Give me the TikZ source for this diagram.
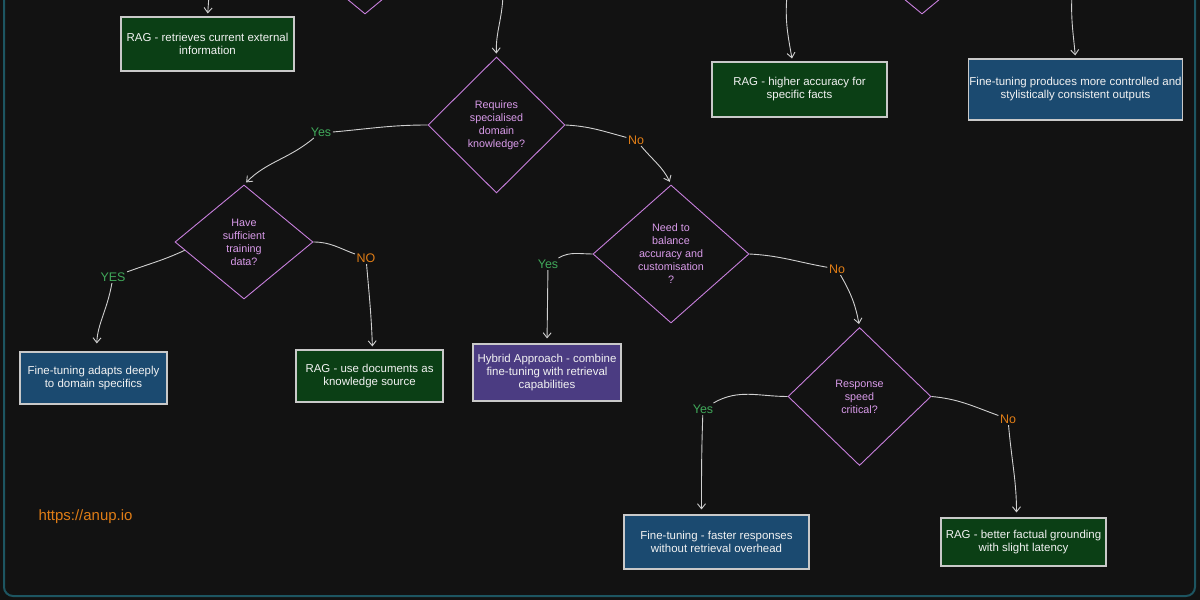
\documentclass[tikz,border=0pt]{standalone}
\usepackage{fontspec}
\setmainfont{Liberation Sans}
\usetikzlibrary{shapes.geometric,arrows.meta}
\definecolor{bg}{HTML}{121212}
\definecolor{framecol}{HTML}{1D5561}
\definecolor{ragfill}{HTML}{0B3F15}
\definecolor{ftfill}{HTML}{1B4A70}
\definecolor{hybfill}{HTML}{4B3C82}
\definecolor{boxline}{HTML}{C9C9C9}
\definecolor{qline}{HTML}{C77FDB}
\definecolor{qtext}{HTML}{D99BEA}
\definecolor{yescol}{HTML}{40A85A}
\definecolor{nocol}{HTML}{E07D16}
\definecolor{wire}{HTML}{D0D0D0}
\begin{document}
\begin{tikzpicture}[x=1bp,y=1bp,
    box/.style = {draw=boxline,line width=1.1bp,text=white!95!black,align=center,
                  font=\fontsize{11.5}{13}\selectfont,inner sep=1bp},
    rag/.style = {box,fill=ragfill},
    ft/.style = {box,fill=ftfill},
    hyb/.style = {box,fill=hybfill},
    question/.style = {diamond,draw=qline,line width=0.9bp,text=qtext,align=center,
                  font=\fontsize{10.8}{13}\selectfont,inner sep=0pt},
    yes/.style = {text=yescol,font=\fontsize{12.5}{12}\selectfont,inner sep=1.5bp},
    no/.style = {text=nocol,font=\fontsize{12.5}{12}\selectfont,inner sep=1.5bp},
    wireline/.style = {draw=wire,line width=0.9bp},
    arrow/.style = {wireline,shorten >=3bp,-{Straight Barb[length=5bp,width=8bp]}}]
                    \useasboundingbox (0,0) rectangle (1200,-600);
                    \clip (0,0) rectangle (1200,-600);
                    \fill[bg] (0,0) rectangle (1200,-600);
                    \draw[framecol,line width=2bp,rounded corners=9bp] (4,20) rectangle (1195,-596);

                    \node[question,minimum width=138bp,minimum height=114bp] (top1) at (365,43) {};
                    \node[question,minimum width=138bp,minimum height=114bp] (top2) at (922,43) {};
                    \coordinate (inA) at (209,5);
                    \coordinate (inQ) at (503,5);
                    \coordinate (inB) at (787,5);
                    \coordinate (inC) at (1072,5);

                    \node[rag,minimum width=173bp,minimum height=54bp] (ragext) at (207.5,-44) {RAG - retrieves current external\\information};
                    \node[rag,minimum width=175bp,minimum height=55bp] (ragfacts) at (799.5,-89.5) {RAG - higher accuracy for\\specific facts};
                    \node[ft,minimum width=213bp,minimum height=61bp] (ftstyle) at (1075.5,-89.5) {Fine-tuning produces more controlled and\\stylistically consistent outputs};

                    \node[question,minimum width=137bp,minimum height=136bp] (domain) at (496.5,-125) {Requires\\specialised\\domain\\knowledge?};
                    \node[question,minimum width=138bp,minimum height=114bp] (data) at (244,-242) {Have\\sufficient\\training\\data?};
                    \node[question,minimum width=156bp,minimum height=138bp] (balance) at (671,-254) {Need to\\balance\\accuracy and\\customisation\\?};
                    \node[question,minimum width=143bp,minimum height=138bp] (speed) at (859.5,-396.5) {Response\\speed\\critical?};

                    \node[ft,minimum width=147bp,minimum height=52bp] (ftdeep) at (93.5,-378) {Fine-tuning adapts deeply\\to domain specifics};
                    \node[rag,minimum width=147bp,minimum height=52bp] (ragdocs) at (369.5,-376) {RAG - use documents as\\knowledge source};
                    \node[hyb,minimum width=148bp,minimum height=57bp] (hybrid) at (547,-372.5) {Hybrid Approach - combine\\fine-tuning with retrieval\\capabilities};
                    \node[ft,minimum width=185bp,minimum height=54bp] (ftfast) at (716.5,-542) {Fine-tuning - faster responses\\without retrieval overhead};
                    \node[rag,minimum width=165bp,minimum height=48bp] (ragground) at (1023.5,-542) {RAG - better factual grounding\\with slight latency};

                    \node[yes] (domainyes) at (321,-132) {Yes};
                    \node[no] (domainno) at (636,-140) {No};
                    \node[yes] (datayes) at (113,-277) {YES};
                    \node[no] (datano) at (366,-258) {NO};
                    \node[yes] (balanceyes) at (548,-264) {Yes};
                    \node[no] (balanceno) at (837,-269) {No};
                    \node[yes] (speedyes) at (703,-409) {Yes};
                    \node[no] (speedno) at (1008,-419) {No};

                    \node[text=nocol,font=\fontsize{15}{16}\selectfont,anchor=west] (url) at (35,-517) {https://anup.io};

                    \draw[arrow] (inA) -- (ragext.north);
                    \draw[arrow] (inQ) to[out=-92,in=92] (domain.north);
                    \draw[arrow] (inB) to[out=-95,in=100] ([xshift=-7bp]ragfacts.north);
                    \draw[arrow] (inC) to[out=-93,in=95] (ftstyle.north);

                    \draw[wireline] (domain.west) to[out=180,in=5] (domainyes.east);
                    \draw[arrow] (domainyes) to[out=220,in=45] (data.north);
                    \draw[wireline] (domain.east) to[out=-3,in=165] (domainno);
                    \draw[arrow] (domainno) to[out=-50,in=115] (balance.north);

                    \draw[wireline] (data.188) to[out=205,in=20] (datayes);
                    \draw[arrow,shorten >=8bp] (datayes) to[out=-100,in=88] ([xshift=3bp]ftdeep.north);
                    \draw[wireline] (data.east) to[out=0,in=160] (datano);
                    \draw[arrow] (datano) to[out=-85,in=92] ([xshift=3bp]ragdocs.north);

                    \draw[wireline] (balance.west) to[out=180,in=30] (balanceyes);
                    \draw[arrow,shorten >=5bp] (balanceyes) -- (hybrid.north);
                    \draw[wireline] (balance.east) to[out=-3,in=170] (balanceno);
                    \draw[arrow] (balanceno) to[out=-60,in=100] (speed.north);

                    \draw[wireline] (speed.west) to[out=180,in=30] (speedyes);
                    \draw[arrow,shorten >=5bp] (speedyes) to[out=-92,in=90] ([xshift=-15bp]ftfast.north);
                    \draw[wireline] (speed.east) to[out=-5,in=160] (speedno);
                    \draw[arrow,shorten >=5bp] (speedno) to[out=-85,in=90] ([xshift=-7bp]ragground.north);
                \end{tikzpicture}
\end{document}
